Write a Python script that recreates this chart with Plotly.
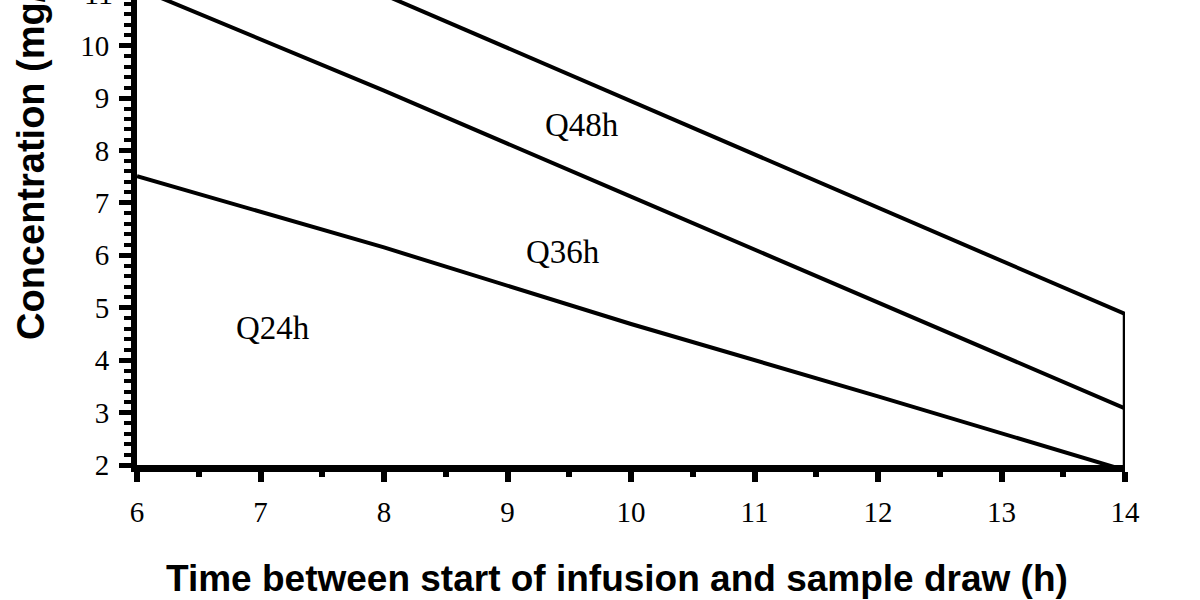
import plotly.graph_objects as go

# Data
hours = [6, 8, 10, 12, 14]
q48 = [13.0, 10.97, 8.95, 6.93, 4.88]
q36 = [11.1, 9.14, 7.12, 5.10, 3.08]
q24 = [7.51, 6.15, 4.69, 3.31, 1.9]

boundary_x = [14, 14]
boundary_y = [2, q48[-1]]

region_labels = ["Q48h", "Q36h", "Q24h"]
label_x = [9.6, 9.45, 7.10]
label_y = [8.49, 6.06, 4.62]

x_tick_vals = [6, 7, 8, 9, 10, 11, 12, 13, 14]
y_tick_vals = [2, 3, 4, 5, 6, 7, 8, 9, 10, 11]

x_title = "Time between start of infusion and sample draw (h)"
y_title = "Concentration (mg/L)"

serif = "Liberation Serif, Times New Roman, serif"
sans = "Liberation Sans, Arial, sans-serif"

Y_MIN, Y_MAX = 2, 10.87
L, R, T, B = 137, 75, 0, 135
PW, PH = 1200 - L - R, 600 - T - B

fig = go.Figure()
line_style = dict(color="black", width=4)
for ys in (q48, q36, q24):
    fig.add_trace(go.Scatter(x=hours, y=ys, mode="lines", line=line_style,
                             showlegend=False, hoverinfo="skip"))
fig.add_trace(go.Scatter(x=boundary_x, y=boundary_y, mode="lines",
                         line=dict(color="black", width=4.5),
                         showlegend=False, hoverinfo="skip"))

for t, xx, yy in zip(region_labels, label_x, label_y):
    fig.add_annotation(x=xx, y=yy, xref="x", yref="y", text=t, showarrow=False,
                       font=dict(family=serif, size=33, color="black"))

# partially visible top tick label "11" (just above the axis range)
top_label = y_tick_vals[-1]
fig.add_annotation(x=-22 / PW, y=(top_label - Y_MIN) / (Y_MAX - Y_MIN),
                   xref="paper", yref="paper", text=str(top_label),
                   xanchor="right", yanchor="middle", showarrow=False,
                   font=dict(family=serif, size=30, color="black"))

# y title (rotated, running off the top edge)
fig.add_annotation(x=-106 / PW, y=(PH - 342) / PH, xref="paper", yref="paper",
                   text="<b>" + y_title + "</b>", textangle=-90,
                   xanchor="center", yanchor="bottom", showarrow=False,
                   font=dict(family=sans, size=38, color="black"))

# x title
fig.add_annotation(x=(617 - L) / PW, y=-(578 - PH) / PH, xref="paper", yref="paper",
                   text="<b>" + x_title + "</b>", xanchor="center", yanchor="middle",
                   showarrow=False, font=dict(family=sans, size=37, color="black"))

fig.update_layout(
    width=1200, height=600,
    margin=dict(l=L, r=R, t=T, b=B, autoexpand=False),
    paper_bgcolor="white", plot_bgcolor="white",
    xaxis=dict(
        range=[6, 14], tickvals=x_tick_vals, showgrid=False, zeroline=False,
        automargin=False,
        showline=True, linecolor="black", linewidth=7,
        ticks="outside", ticklen=10, tickwidth=6, tickcolor="black",
        minor=dict(dtick=0.5, ticks="outside", ticklen=5, tickwidth=6,
                   tickcolor="black", showgrid=False),
        tickfont=dict(family=serif, size=29, color="black"),
        ticklabelstandoff=5,
    ),
    yaxis=dict(
        range=[Y_MIN, Y_MAX], tickvals=y_tick_vals[:-1], showgrid=False,
        zeroline=False, automargin=False,
        showline=True, linecolor="black", linewidth=6,
        ticks="outside", ticklen=12, tickwidth=5, tickcolor="black",
        minor=dict(dtick=0.2, ticks="outside", ticklen=7, tickwidth=4,
                   tickcolor="black", showgrid=False),
        tickfont=dict(family=serif, size=29, color="black"),
        ticklabelstandoff=4,
    ),
)

fig.write_html("out.html",
               config={"displayModeBar": False},
               post_script="document.body.style.margin='0';"
                           "document.body.style.overflow='hidden';")
